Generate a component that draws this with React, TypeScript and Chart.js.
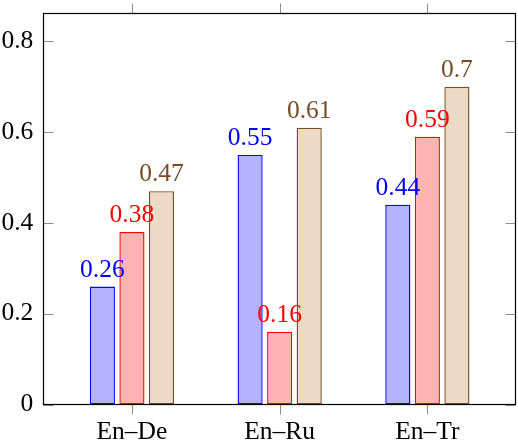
import React, { useEffect, useRef } from "react";
import { Chart, registerables } from "chart.js";

Chart.register(...registerables);

const categories = ["En–De", "En–Ru", "En–Tr"];
const seriesBlue = [0.26, 0.55, 0.44];
const seriesRed = [0.38, 0.16, 0.59];
const seriesBrown = [0.47, 0.61, 0.7];
const yTickValues = [0, 0.2, 0.4, 0.6, 0.8];

const FONT = "'Liberation Serif', 'Times New Roman', serif";
const FONT_SIZE = 25.5;

const frameAndTicks = {
  id: "frameAndTicks",
  afterDraw(chart: any) {
    const { ctx, chartArea } = chart;
    const l = Math.round(chartArea.left) + 0.5;
    const r = Math.round(chartArea.right) - 0.5;
    const t = Math.round(chartArea.top) + 0.5;
    const b = Math.round(chartArea.bottom) - 0.5;
    const xs = chart.scales.x;
    const ys = chart.scales.y;
    const len = 10;
    ctx.save();
    ctx.strokeStyle = "rgb(140,140,140)";
    ctx.lineWidth = 1;
    ctx.beginPath();
    yTickValues.forEach((v) => {
      const y = Math.round(ys.getPixelForValue(v)) + 0.5;
      ctx.moveTo(l, y);
      ctx.lineTo(l + len, y);
      ctx.moveTo(r, y);
      ctx.lineTo(r - len, y);
    });
    categories.forEach((_, i) => {
      const x = Math.round(xs.getPixelForValue(i)) + 0.5;
      ctx.moveTo(x, b);
      ctx.lineTo(x, b + len);
      ctx.moveTo(x, t);
      ctx.lineTo(x, t - len);
    });
    ctx.stroke();
    ctx.strokeStyle = "#000";
    ctx.lineWidth = 1.2;
    ctx.strokeRect(l, t, r - l, b - t);
    ctx.restore();
  },
};

const valueLabels = {
  id: "valueLabels",
  afterDatasetsDraw(chart: any) {
    const { ctx } = chart;
    ctx.save();
    ctx.font = `${FONT_SIZE}px ${FONT}`;
    ctx.textAlign = "center";
    ctx.textBaseline = "alphabetic";
    chart.data.datasets.forEach((ds: any, di: number) => {
      const meta = chart.getDatasetMeta(di);
      ctx.fillStyle = ds.borderColor;
      meta.data.forEach((el: any, i: number) => {
        const v = ds.data[i].y;
        ctx.fillText(String(v), el.x, el.y - 10);
      });
    });
    ctx.restore();
  },
};

export default function App() {
  const ref = useRef<HTMLCanvasElement>(null);
  useEffect(() => {
    if (!ref.current) return;
    const toPts = (arr: number[]) => arr.map((v, i) => ({ x: i, y: v }));
    const chart = new Chart(ref.current, {
      type: "bar",
      data: {
        datasets: [
          {
            data: toPts(seriesBlue),
            backgroundColor: "rgb(179,179,255)",
            borderColor: "rgb(0,0,255)",
          },
          {
            data: toPts(seriesRed),
            backgroundColor: "rgb(255,179,179)",
            borderColor: "rgb(255,0,0)",
          },
          {
            data: toPts(seriesBrown),
            backgroundColor: "rgb(236,217,198)",
            borderColor: "rgb(115,77,38)",
          },
        ] as any,
      },
      options: {
        animation: false,
        responsive: true,
        maintainAspectRatio: false,
        datasets: {
          bar: {
            borderWidth: 1.4,
            borderSkipped: false,
            categoryPercentage: 0.6,
            barPercentage: 0.85,
          },
        } as any,
        layout: { padding: { top: 13.3, right: 2, left: 0, bottom: 0 } },
        plugins: {
          legend: { display: false },
          tooltip: { enabled: false },
        },
        scales: {
          x: {
            type: "linear",
            offset: false,
            min: -0.6,
            max: 2.6,
            grid: { display: false, drawTicks: false, tickLength: 0 },
            border: { display: false },
            afterBuildTicks: (s: any) => {
              s.ticks = categories.map((_, i) => ({ value: i }));
            },
            afterFit: (s: any) => {
              s.height = 39.5;
              s.paddingLeft = 0;
              s.paddingRight = 0;
            },
            ticks: {
              autoSkip: false,
              maxRotation: 0,
              padding: 12,
              color: "#000",
              font: { family: FONT, size: FONT_SIZE, lineHeight: 1.2 },
              callback: (v: any) => categories[v] ?? "",
            },
          },
          y: {
            type: "linear",
            min: 0,
            max: 0.862,
            grid: { display: false, drawTicks: false, tickLength: 0 },
            border: { display: false },
            afterBuildTicks: (s: any) => {
              s.ticks = yTickValues.map((v) => ({ value: v }));
            },
            afterFit: (s: any) => {
              s.width = 43.3;
              s.paddingTop = 0;
              s.paddingBottom = 0;
            },
            ticks: {
              padding: 10,
              color: "#000",
              font: { family: FONT, size: FONT_SIZE, lineHeight: 1.2 },
              callback: (v: any) => String(v),
            },
          },
        },
      },
      plugins: [valueLabels, frameAndTicks],
    });
    return () => chart.destroy();
  }, []);
  return (
    <div
      style={{
        position: "fixed",
        left: 0,
        top: 0,
        width: 518,
        height: 444,
        background: "#fff",
      }}
    >
      <canvas ref={ref} />
    </div>
  );
}
